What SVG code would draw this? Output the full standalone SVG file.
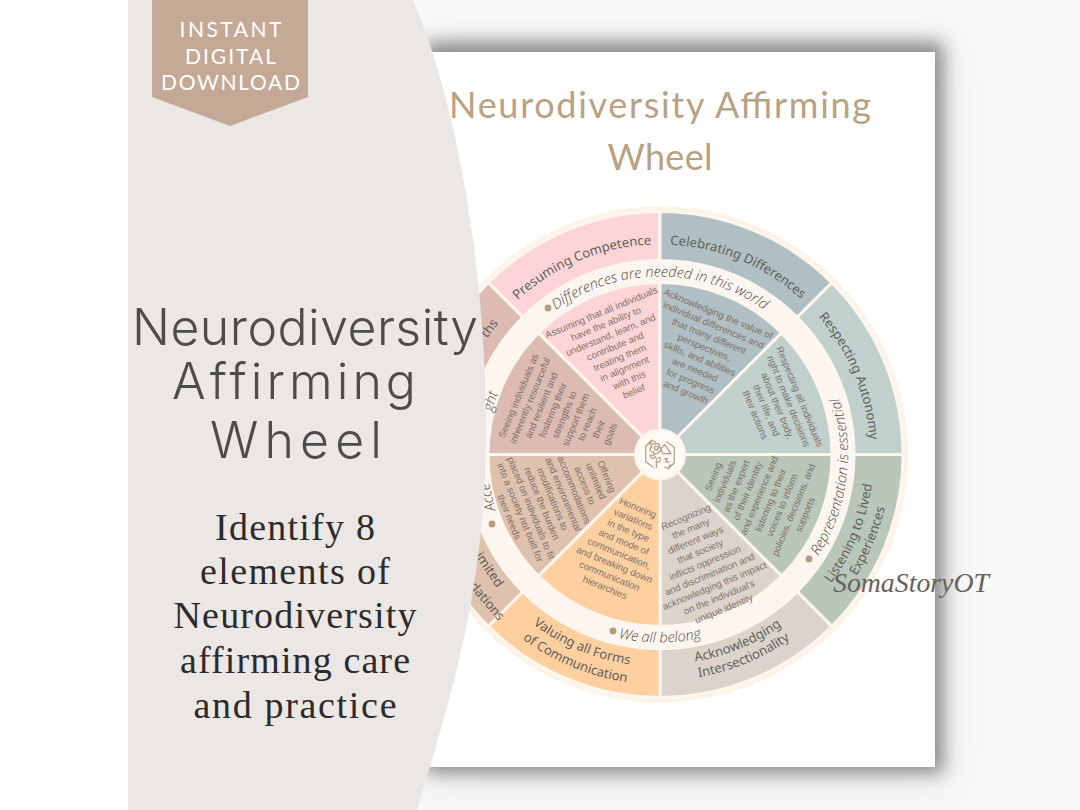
<svg xmlns="http://www.w3.org/2000/svg" width="1080" height="810" viewBox="0 0 1080 810">
<style>
.b{font-family:"Liberation Sans",sans-serif;font-size:9.6px;fill:#7d7069;text-anchor:middle}
.l{font-family:"Noto Sans","Liberation Sans",sans-serif;font-size:13.1px;fill:#625f5b;text-anchor:middle}
.h{font-family:"Open Sans","Liberation Sans",sans-serif;font-style:italic;font-weight:300;font-size:14.4px;fill:#4f4c49;text-anchor:middle}
.t{font-family:"Lato","Liberation Sans",sans-serif;fill:#b9a184;font-size:36px;text-anchor:middle}
.p{font-family:"Inter","Liberation Sans",sans-serif;font-weight:300;fill:#4d4c4b;font-size:50px;text-anchor:middle}
.s{font-family:"Liberation Serif",serif;fill:#2c2a2b;font-size:38px;text-anchor:middle}
.d{font-family:"Lato","Liberation Sans",sans-serif;font-weight:400;fill:#fff;font-size:21px;text-anchor:middle}
.o{stroke:#fdf6ee;stroke-width:3}
.dot{fill:#b49b80}
.ic{fill:none;stroke:#b49b80;stroke-width:1.3;stroke-linecap:round;stroke-linejoin:round}
</style>
<defs>
<filter id="bl" x="-20%" y="-20%" width="140%" height="140%"><feGaussianBlur stdDeviation="9"/></filter>
<filter id="bw" x="-20%" y="-20%" width="140%" height="140%"><feGaussianBlur stdDeviation="24"/></filter>
<path id="outer" d="M0 -194L0 -243A243 243 0 0 1 171.8 -171.8L137.2 -137.2A194 194 0 0 0 0 -194Z"/>
<path id="inner" d="M0 0L0 -172A172 172 0 0 1 121.6 -121.6Z"/>
<path id="cw210" d="M-135 -160.9A210 210 0 0 1 135 -160.9"/>
<path id="cw178" d="M-154.2 -89A178 178 0 0 1 154.2 -89"/>
<path id="ccw188" d="M-162.8 94A188 188 0 0 0 162.8 94"/>
<path id="ccw210" d="M-135 160.9A210 210 0 0 0 135 160.9"/>
<path id="ccw212" d="M-136.3 162.4A212 212 0 0 0 136.3 162.4"/>
<path id="ccw214" d="M-137.6 163.9A214 214 0 0 0 137.6 163.9"/>
<path id="ccw226" d="M-145.3 173.1A226 226 0 0 0 145.3 173.1"/>
<path id="ccw230" d="M-147.8 176.2A230 230 0 0 0 147.8 176.2"/>
<path id="ccw231" d="M-148.5 176.9A231 231 0 0 0 148.5 176.9"/>
</defs>
<rect width="1080" height="810" fill="#fafafa"/>
<rect width="128" height="810" fill="#fefefe"/>
<g id="sheet">
<rect x="420" y="36" width="540" height="760" fill="#000" opacity=".05" filter="url(#bw)"/>
<rect x="425" y="42" width="518" height="731" fill="#4a4a4a" opacity=".62" filter="url(#bl)"/>
<rect x="425" y="52" width="510" height="715" fill="#fff"/>
<text class="t" x="660" y="118" textLength="422" lengthAdjust="spacing">Neurodiversity Affirming</text>
<text class="t" x="660" y="170" textLength="105" lengthAdjust="spacing">Wheel</text>
</g>
<g id="wheel" transform="translate(660 454.5)">
<circle r="248" fill="#fdf3e7"/>
<circle r="194" fill="#fdf6f0"/>
<g id="presuming-competence" transform="rotate(-45)">
<use href="#outer" class="o" fill="#fdd5d6"/><use href="#inner" class="o" fill="#fdd5d6"/>
<g transform="rotate(22.5)">
<text class="l"><textPath href="#cw210" startOffset="50%">Presuming Competence</textPath></text>
<text class="b" y="-150.5"><tspan x="0">Assuming that all individuals</tspan><tspan x="0" dy="12.2">have the ability to</tspan><tspan x="0" dy="12.2">understand, learn, and</tspan><tspan x="0" dy="12.2">contribute and</tspan><tspan x="0" dy="12.2">treating them</tspan><tspan x="0" dy="12.2">in alignment</tspan><tspan x="0" dy="12.2">with this</tspan><tspan x="0" dy="12.2">belief</tspan></text>
</g></g>
<g id="celebrating-differences">
<use href="#outer" class="o" fill="#b0bfc3"/><use href="#inner" class="o" fill="#b0bfc3"/>
<g transform="rotate(22.5)">
<text class="l"><textPath href="#cw210" startOffset="50%">Celebrating Differences</textPath></text>
<text class="b" y="-149"><tspan x="0">Acknowledging the value of</tspan><tspan x="0" dy="12.1">individual differences and</tspan><tspan x="0" dy="12.1">that many different</tspan><tspan x="0" dy="12.1">perspectives,</tspan><tspan x="0" dy="12.1">skills, and abilities</tspan><tspan x="0" dy="12.1">are needed</tspan><tspan x="0" dy="12.1">for progress</tspan><tspan x="0" dy="12.1">and growth</tspan></text>
</g></g>
<g id="respecting-autonomy" transform="rotate(45)">
<use href="#outer" class="o" fill="#c0d0cd"/><use href="#inner" class="o" fill="#c0d0cd"/>
<g transform="rotate(22.5)">
<text class="l"><textPath href="#cw210" startOffset="50%">Respecting Autonomy</textPath></text>
<text class="b" y="-148"><tspan x="0">Respecting all individuals</tspan><tspan x="0" dy="12">right to make decisions</tspan><tspan x="0" dy="12">about their body,</tspan><tspan x="0" dy="12">their life, and</tspan><tspan x="0" dy="12">their actions</tspan></text>
</g></g>
<g id="listening-to-lived-experiences" transform="rotate(90)">
<use href="#outer" class="o" fill="#b9c6ba"/><use href="#inner" class="o" fill="#b9c6ba"/>
<g transform="rotate(-157.5)">
<text class="l"><textPath href="#ccw214" startOffset="50%">Listening to Lived</textPath></text>
<text class="l"><textPath href="#ccw231" startOffset="50%">Experiences</textPath></text>
<text class="b" y="61"><tspan x="0">Seeing</tspan><tspan x="0" dy="12.4">individuals</tspan><tspan x="0" dy="12.4">as the expert</tspan><tspan x="0" dy="12.4">of their identity</tspan><tspan x="0" dy="12.4">and experience and</tspan><tspan x="0" dy="12.4">listening to their</tspan><tspan x="0" dy="12.4">voices to inform</tspan><tspan x="0" dy="12.4">policies, decisions, and</tspan><tspan x="0" dy="12.4">supports</tspan></text>
</g></g>
<g id="acknowledging-intersectionality" transform="rotate(135)">
<use href="#outer" class="o" fill="#dcd4cb"/><use href="#inner" class="o" fill="#dcd4cb"/>
<g transform="rotate(-157.5)">
<text class="l"><textPath href="#ccw210" startOffset="50%">Acknowledging</textPath></text>
<text class="l"><textPath href="#ccw226" startOffset="50%">Intersectionality</textPath></text>
<text class="b" y="71"><tspan x="0">Recognizing</tspan><tspan x="0" dy="12.4">the many</tspan><tspan x="0" dy="12.4">different ways</tspan><tspan x="0" dy="12.4">that society</tspan><tspan x="0" dy="12.4">inflicts oppression</tspan><tspan x="0" dy="12.4">and discrimination and</tspan><tspan x="0" dy="12.4">acknowledging this impact</tspan><tspan x="0" dy="12.4">on the individual's</tspan><tspan x="0" dy="12.4">unique identity</tspan></text>
</g></g>
<g id="valuing-communication" transform="rotate(180)">
<use href="#outer" class="o" fill="#fecf9f"/><use href="#inner" class="o" fill="#fecf9f"/>
<g transform="rotate(-157.5)">
<text class="l"><textPath href="#ccw212" startOffset="50%">Valuing all Forms</textPath></text>
<text class="l"><textPath href="#ccw230" startOffset="50%">of Communication</textPath></text>
<text class="b" y="61"><tspan x="0">Honoring</tspan><tspan x="0" dy="12.3">variations</tspan><tspan x="0" dy="12.3">in the type</tspan><tspan x="0" dy="12.3">and mode of</tspan><tspan x="0" dy="12.3">communication,</tspan><tspan x="0" dy="12.3">and breaking down</tspan><tspan x="0" dy="12.3">communication</tspan><tspan x="0" dy="12.3">hierarchies</tspan></text>
</g></g>
<g id="limited-accommodations" transform="rotate(225)">
<use href="#outer" class="o" fill="#dfc2ae"/><use href="#inner" class="o" fill="#dfc2ae"/>
<g transform="rotate(-157.5)">
<text class="b" y="61"><tspan x="0">Offering</tspan><tspan x="0" dy="11.7">unlimited</tspan><tspan x="0" dy="11.7">access to</tspan><tspan x="0" dy="11.7">accommodations</tspan><tspan x="0" dy="11.7">and environmental</tspan><tspan x="0" dy="11.7">modifications to</tspan><tspan x="0" dy="11.7">reduce the burden</tspan><tspan x="0" dy="11.7">placed on individuals to fit</tspan><tspan x="0" dy="11.7">into a society not built for</tspan><tspan x="0" dy="11.7">their needs</tspan></text>
</g></g>
<g id="strengths" transform="rotate(270)">
<use href="#outer" class="o" fill="#dcbbb3"/><use href="#inner" class="o" fill="#dcbbb3"/>
<g transform="rotate(22.5)">
<text class="b" y="-150"><tspan x="0">Seeing individuals as</tspan><tspan x="0" dy="12.4">inherently resourceful</tspan><tspan x="0" dy="12.4">and resilient and</tspan><tspan x="0" dy="12.4">fostering their</tspan><tspan x="0" dy="12.4">strengths to</tspan><tspan x="0" dy="12.4">support them</tspan><tspan x="0" dy="12.4">to reach</tspan><tspan x="0" dy="12.4">their</tspan><tspan x="0" dy="12.4">goals</tspan></text>
</g></g>
<g id="fragments">
<text class="l" transform="rotate(-53.5) translate(0 -208)">ths</text>
<text class="l" transform="rotate(56) translate(0 210)">imited</text>
<text class="l" transform="rotate(49.7) translate(0 231)">dations</text>
<text class="h" transform="rotate(-104) translate(0 -173)">Acce</text>
<text class="h" transform="rotate(-72.5) translate(0 -173)">ght</text>
</g>
<g id="band">
<text class="h"><textPath href="#cw178" startOffset="50%">Differences are needed in this world</textPath></text>
<circle class="dot" cx="-112" cy="-146.5" r="3.4"/>
<g transform="rotate(-82.500)"><text class="h"><textPath href="#ccw188" startOffset="50%">Representation is essential</textPath></text></g>
<circle class="dot" cx="149" cy="104.5" r="3.4"/>
<text class="h"><textPath href="#ccw188" startOffset="50%">We all belong</textPath></text>
<circle class="dot" cx="-47" cy="176.5" r="3.4"/>
<circle class="dot" cx="-168" cy="69.5" r="3.4"/>
</g>
<g id="hub">
<circle r="26" fill="#fdf6ee"/>
<circle r="23" fill="#fefbf7"/>
<g transform="scale(.92)">
<path class="ic" d="M-9 -15.5L-15.5 -9V8L-7 14M9 15.5L15.5 9V-8L7 -14M-9 -15.5L-11 -11M-9 -15.5L-5 -13.5M9 15.5L11 11M9 15.5L5 13.5"/>
<circle class="ic" cx="-4" cy="-7" r="2.2"/><path class="ic" d="M-5 -11a2 2 0 0 1 4 3a2 2 0 0 1 -1 5a2 2 0 0 1 -5 0a2 2 0 0 1 -2 -5a2 2 0 0 1 4 -3"/>
<path class="ic" d="M5 -11L12 -1H3L1 -6ZM-11 1Q-7 -1 -5 3Q-9 6 -11 1ZM-4 9Q-5 4 0 3Q2 8 -4 9ZM-4 9V14M5 5L8 4L6 8L10 8"/>
</g>
</g>
</g>
<g id="signature"><text x="911" y="592" font-family="Liberation Serif,serif" font-style="italic" font-size="27" fill="#66625e" text-anchor="middle" textLength="156" lengthAdjust="spacingAndGlyphs">SomaStoryOT</text></g>
<g id="panel">
<path d="M128 0H413C460 110 486 280 486 430C486 590 450 700 417 810H128Z" fill="#ebe7e5"/>
<text class="p" x="305" y="345" textLength="346" lengthAdjust="spacing">Neurodiversity</text>
<text class="p" x="294" y="399" textLength="244" lengthAdjust="spacing">Affirming</text>
<text class="p" x="296" y="458" textLength="172" lengthAdjust="spacing">Wheel</text>
<text class="s" x="295" y="540" textLength="160" lengthAdjust="spacing">Identify 8</text>
<text class="s" x="295" y="584" textLength="190" lengthAdjust="spacing">elements of</text>
<text class="s" x="295" y="628" textLength="243" lengthAdjust="spacing">Neurodiversity</text>
<text class="s" x="295" y="673" textLength="230" lengthAdjust="spacing">affirming care</text>
<text class="s" x="295" y="718" textLength="203" lengthAdjust="spacing">and practice</text>
</g>
<g id="badge">
<polygon points="152,0 308,0 308,97 230,126 152,97" fill="#c4a996"/>
<text class="d" x="230.500" y="37" textLength="102" lengthAdjust="spacing">INSTANT</text>
<text class="d" x="230.500" y="64" textLength="91" lengthAdjust="spacing">DIGITAL</text>
<text class="d" x="230.500" y="90" textLength="139" lengthAdjust="spacing">DOWNLOAD</text>
</g>
</svg>
